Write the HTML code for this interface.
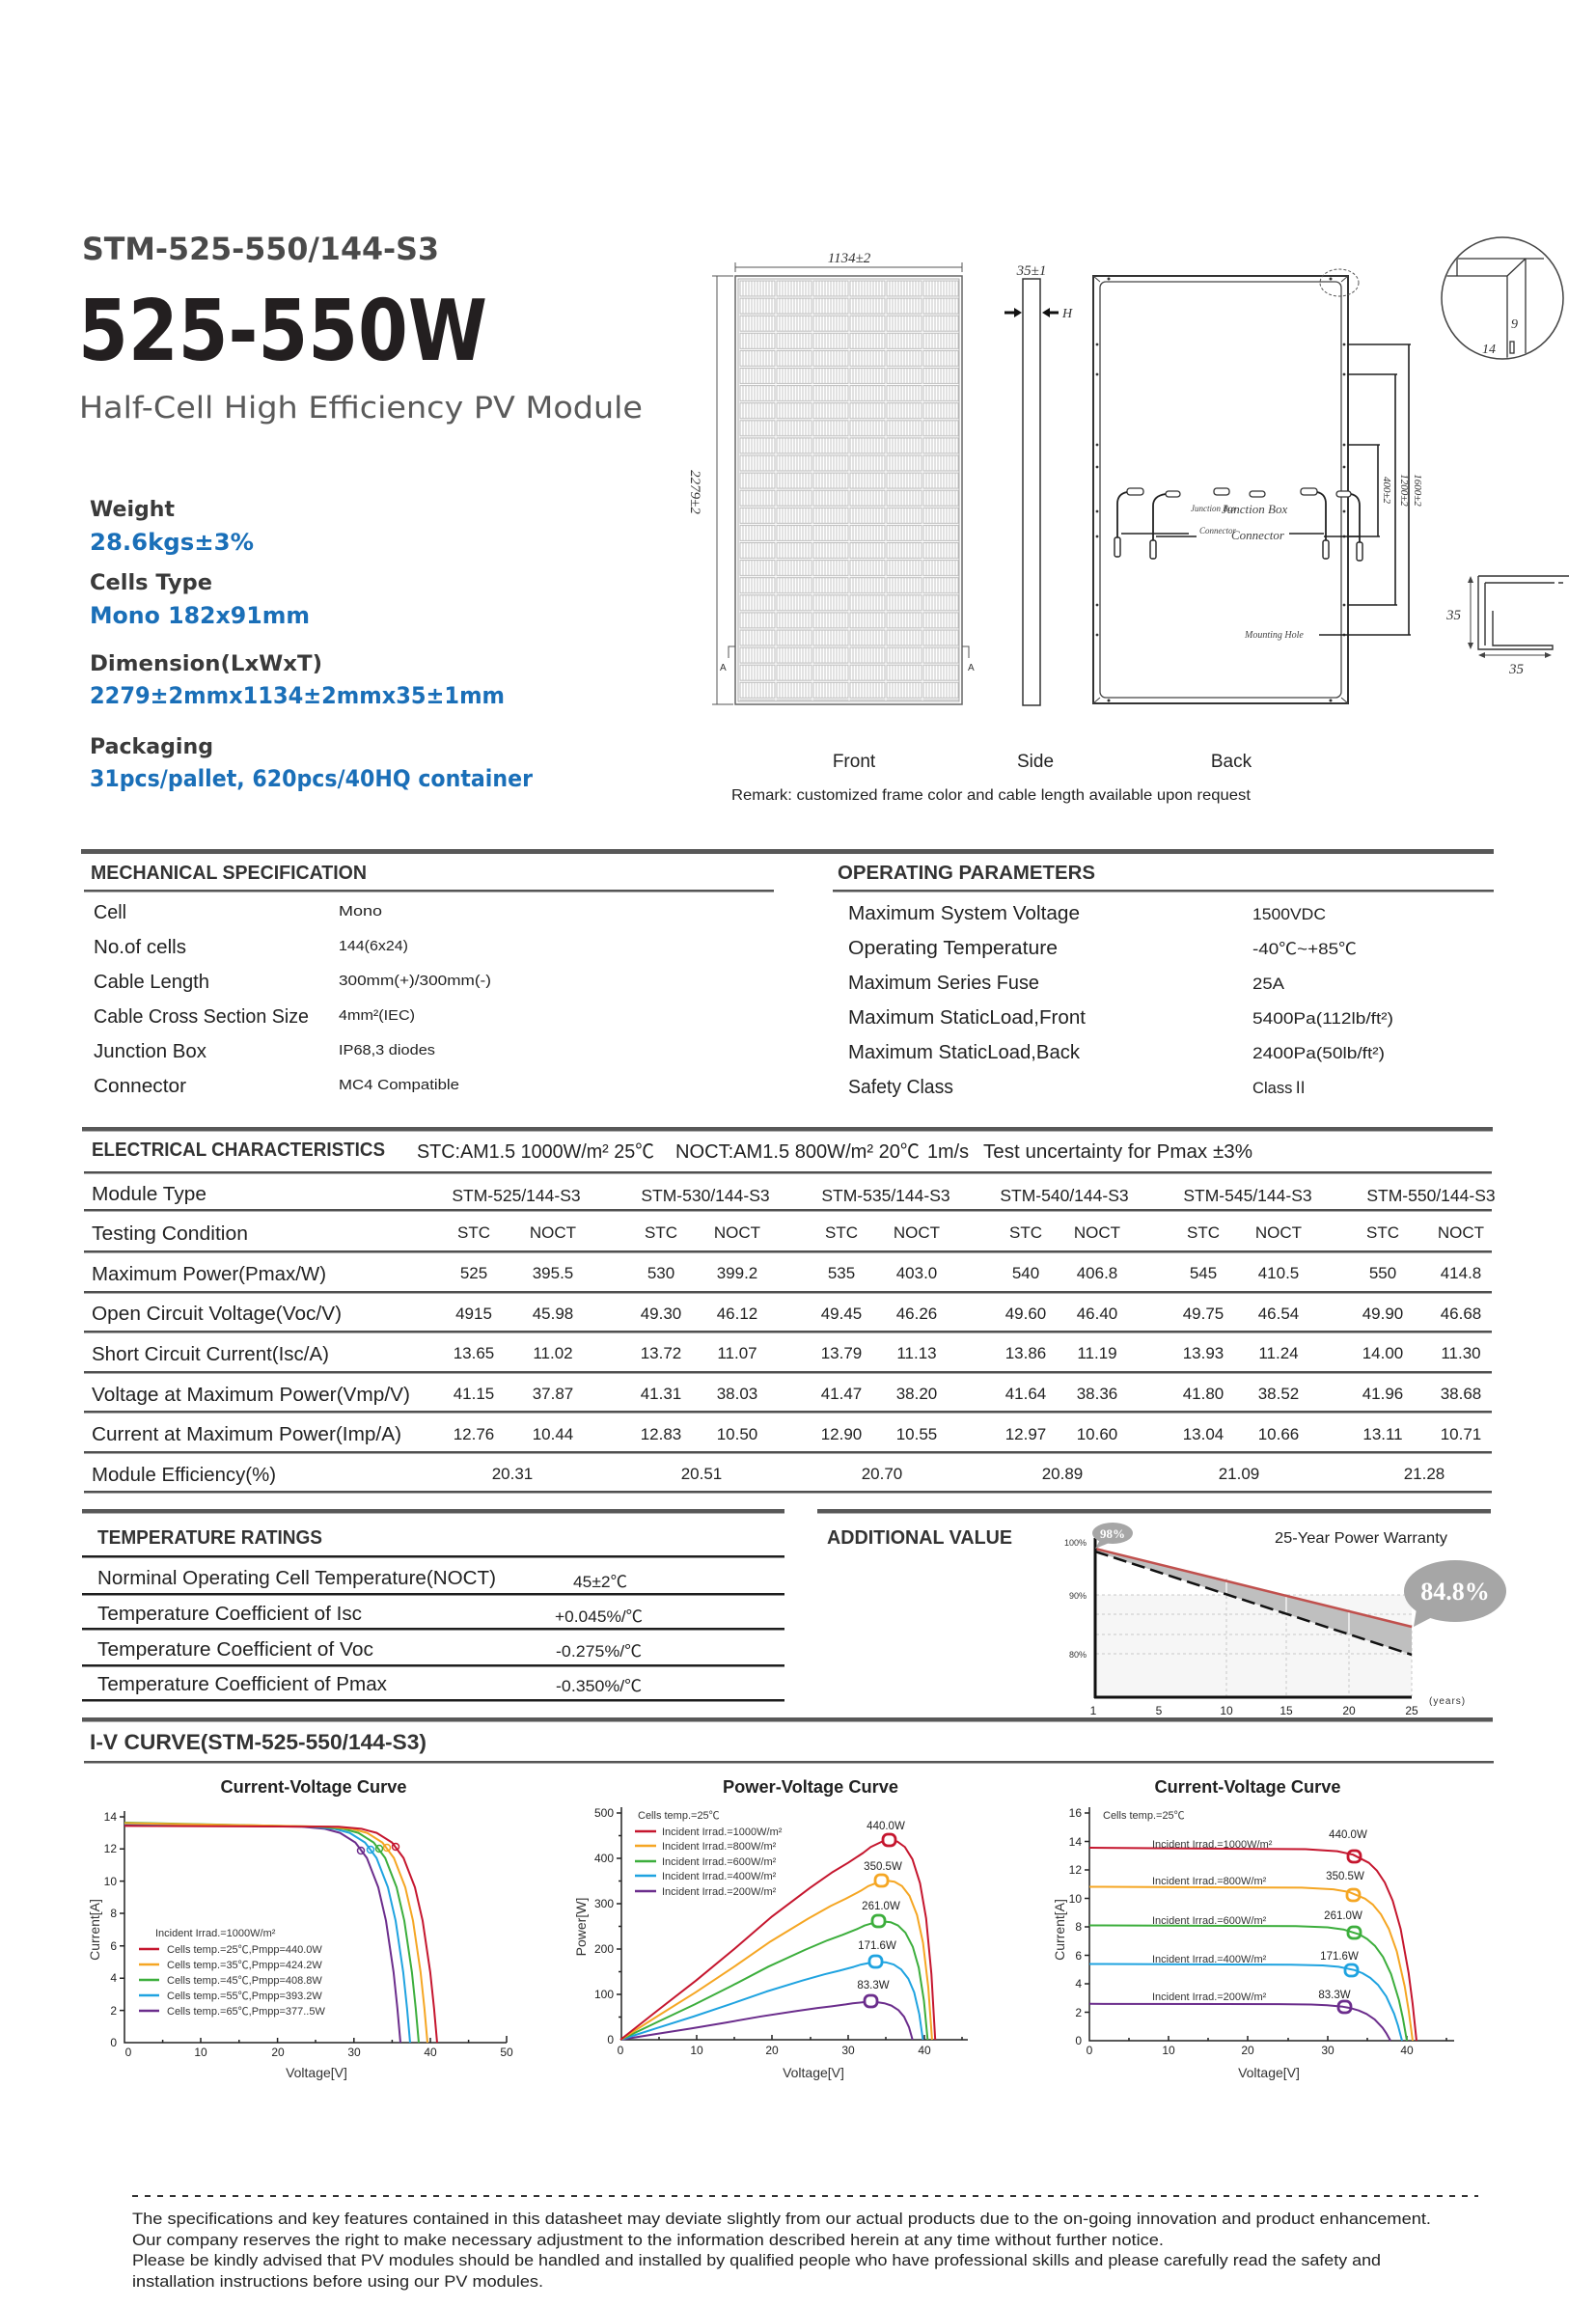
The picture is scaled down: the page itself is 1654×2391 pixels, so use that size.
<!DOCTYPE html>
<html><head><meta charset="utf-8">
<style>
html,body{margin:0;padding:0;background:#fff;}
svg{display:block;}
.h{font-family:"DejaVu Sans","Liberation Sans",sans-serif;font-weight:bold;}
.hr{font-family:"DejaVu Sans","Liberation Sans",sans-serif;}
.b{font-family:"Liberation Sans","Noto Sans CJK SC",sans-serif;}
.bb{font-family:"Liberation Sans","Noto Sans CJK SC",sans-serif;font-weight:bold;}
.s{font-family:"Liberation Serif","Noto Serif CJK SC",serif;font-style:italic;}
.sb{font-family:"Liberation Serif",serif;font-weight:bold;}
</style></head>
<body>
<svg width="1654" height="2391" viewBox="0 0 1654 2391" xmlns="http://www.w3.org/2000/svg">
<defs>
<pattern id="cellp" x="766" y="290" width="38" height="18.1" patternUnits="userSpaceOnUse">
<rect x="1" y="1" width="36" height="16" fill="#fff" stroke="#bcbcbc" stroke-width="1"/>
<path d="M4,1.5V16.5M7,1.5V16.5M10,1.5V16.5M13,1.5V16.5M16,1.5V16.5M19,1.5V16.5M22,1.5V16.5M25,1.5V16.5M28,1.5V16.5M31,1.5V16.5M34,1.5V16.5" stroke="#c4c4c4" stroke-width="1"/>
</pattern>
<clipPath id="cc"><circle cx="1557" cy="309" r="62"/></clipPath>
</defs>
<rect width="1654" height="2391" fill="#fff"/>

<!-- HEADER -->
<text class="h" x="85" y="269" font-size="32" fill="#4a4a4a" textLength="370" lengthAdjust="spacingAndGlyphs">STM-525-550/144-S3</text>
<text class="h" x="81" y="373" font-size="87" fill="#231f20" textLength="424" lengthAdjust="spacingAndGlyphs">525-550W</text>
<text class="hr" x="82" y="433" font-size="31" fill="#5a5a5a" textLength="584" lengthAdjust="spacingAndGlyphs">Half-Cell High Efficiency PV Module</text>

<text class="h" x="93" y="535" font-size="22" fill="#3a3a3a" textLength="88" lengthAdjust="spacingAndGlyphs">Weight</text>
<text class="h" x="93" y="570" font-size="24" fill="#1a6fb8" textLength="170" lengthAdjust="spacingAndGlyphs">28.6kgs±3%</text>
<text class="h" x="93" y="611" font-size="22" fill="#3a3a3a" textLength="127" lengthAdjust="spacingAndGlyphs">Cells Type</text>
<text class="h" x="93" y="646" font-size="24" fill="#1a6fb8" textLength="228" lengthAdjust="spacingAndGlyphs">Mono 182x91mm</text>
<text class="h" x="93" y="695" font-size="22" fill="#3a3a3a" textLength="241" lengthAdjust="spacingAndGlyphs">Dimension(LxWxT)</text>
<text class="h" x="93" y="729" font-size="24" fill="#1a6fb8" textLength="430" lengthAdjust="spacingAndGlyphs">2279±2mmx1134±2mmx35±1mm</text>
<text class="h" x="93" y="781" font-size="22" fill="#3a3a3a" textLength="128" lengthAdjust="spacingAndGlyphs">Packaging</text>
<text class="h" x="93" y="815" font-size="24" fill="#1a6fb8" textLength="459" lengthAdjust="spacingAndGlyphs">31pcs/pallet, 620pcs/40HQ container</text>

<!-- FRONT VIEW -->
<path d="M762,272V282M997,272V282M762,277H997" stroke="#555" stroke-width="1"/>
<text class="s" x="880" y="272" font-size="15" fill="#333" text-anchor="middle">1134±2</text>
<path d="M738,286H760M738,730H760M743,286V730" stroke="#555" stroke-width="1"/>
<text class="s" transform="translate(716,510) rotate(90)" font-size="15" fill="#333" text-anchor="middle">2279±2</text>
<rect x="762" y="286" width="235" height="444" fill="#fff" stroke="#666" stroke-width="1.5"/>
<rect x="765" y="289" width="229" height="438" fill="none" stroke="#999" stroke-width="0.8"/>
<rect x="766" y="290" width="228" height="436" fill="url(#cellp)"/>
<path d="M762,670H755V682M997,670H1004V682" stroke="#555" stroke-width="1" fill="none"/>
<text class="b" x="746" y="695" font-size="10" fill="#333">A</text>
<text class="b" x="1003" y="695" font-size="10" fill="#333">A</text>

<!-- SIDE VIEW -->
<text class="s" x="1069" y="285" font-size="15" fill="#333" text-anchor="middle">35±1</text>
<rect x="1060" y="289" width="18" height="442" fill="#fff" stroke="#333" stroke-width="1.5"/>
<path d="M1041,324H1052" stroke="#111" stroke-width="3"/>
<polygon points="1051,319 1059,324 1051,329" fill="#111"/>
<path d="M1087,324H1097" stroke="#111" stroke-width="3"/>
<polygon points="1088,319 1080,324 1088,329" fill="#111"/>
<text class="s" x="1101" y="329" font-size="14" fill="#333">H</text>

<!-- BACK VIEW -->
<rect x="1133" y="286" width="264" height="443" fill="#fff" stroke="#333" stroke-width="2"/>
<rect x="1140" y="292" width="250" height="431" rx="6" fill="none" stroke="#444" stroke-width="1.3"/>
<path d="M1133,286L1140,292M1397,286L1390,292M1133,729L1140,723M1397,729L1390,723" stroke="#444" stroke-width="1"/>
<g fill="#333">
<circle cx="1149" cy="289" r="1.5"/><circle cx="1379" cy="289" r="1.5"/><circle cx="1149" cy="726" r="1.5"/><circle cx="1379" cy="726" r="1.5"/>
<circle cx="1137" cy="357" r="1.4"/><circle cx="1137" cy="388" r="1.4"/><circle cx="1137" cy="461" r="1.4"/><circle cx="1137" cy="484" r="1.4"/><circle cx="1137" cy="530" r="1.4"/><circle cx="1137" cy="556" r="1.4"/><circle cx="1137" cy="627" r="1.4"/><circle cx="1137" cy="658" r="1.4"/>
<circle cx="1393" cy="357" r="1.4"/><circle cx="1393" cy="388" r="1.4"/><circle cx="1393" cy="461" r="1.4"/><circle cx="1393" cy="484" r="1.4"/><circle cx="1393" cy="530" r="1.4"/><circle cx="1393" cy="556" r="1.4"/><circle cx="1393" cy="627" r="1.4"/><circle cx="1393" cy="658" r="1.4"/>
</g>
<ellipse cx="1388" cy="293" rx="20" ry="14" fill="none" stroke="#555" stroke-width="1" stroke-dasharray="3 2"/>
<path d="M1397,357H1462M1391,658H1462M1460,357V658" stroke="#222" stroke-width="1.6" fill="none"/>
<path d="M1397,388H1448M1397,627H1448M1446,388V627" stroke="#222" stroke-width="1.6" fill="none"/>
<path d="M1397,461H1430M1397,556H1430M1428,461V556" stroke="#222" stroke-width="1.6" fill="none"/>
<text class="s" transform="translate(1466,508) rotate(90)" font-size="11" fill="#333" text-anchor="middle">1600±2</text>
<text class="s" transform="translate(1452,508) rotate(90)" font-size="11" fill="#333" text-anchor="middle">1200±2</text>
<text class="s" transform="translate(1434,508) rotate(90)" font-size="11" fill="#333" text-anchor="middle">400±2</text>
<g fill="#fff" stroke="#333" stroke-width="1.3">
<rect x="1168" y="506" width="17" height="7" rx="3"/><rect x="1208" y="509" width="15" height="6" rx="3"/>
<rect x="1258" y="506" width="16" height="7" rx="3"/><rect x="1295" y="509" width="16" height="6" rx="3"/>
<rect x="1348" y="506" width="17" height="7" rx="3"/><rect x="1385" y="509" width="15" height="6" rx="3"/>
</g>
<path d="M1168,510Q1158,512 1158,522V570M1208,512Q1195,514 1195,524V572M1365,510Q1374,512 1374,522V572M1400,512Q1409,514 1409,524V575" stroke="#222" stroke-width="1.8" fill="none"/>
<g fill="#fff" stroke="#222" stroke-width="1.4">
<rect x="1155" y="557" width="6" height="20" rx="2"/><rect x="1192" y="560" width="6" height="19" rx="2"/>
<rect x="1371" y="560" width="6" height="19" rx="2"/><rect x="1406" y="562" width="6" height="19" rx="2"/>
</g>
<path d="M1162,553H1232M1336,553H1372M1198,556H1240M1372,556H1409" stroke="#222" stroke-width="1.6"/>
<text class="s" x="1234" y="530" font-size="9" fill="#444">Junction Box</text>
<text class="s" x="1266" y="532" font-size="13" fill="#444">Junction Box</text>
<text class="s" x="1243" y="553" font-size="9" fill="#444">Connector</text>
<text class="s" x="1276" y="559" font-size="13" fill="#444">Connector</text>
<text class="s" x="1290" y="661" font-size="10" fill="#444">Mounting Hole</text>
<path d="M1367,658H1391" stroke="#222" stroke-width="1.6"/>

<!-- corner detail -->
<circle cx="1557" cy="309" r="63" fill="#fff" stroke="#444" stroke-width="1.5"/>
<g clip-path="url(#cc)" stroke="#333" stroke-width="1.3" fill="none">
<path d="M1510,268H1600M1490,286H1562M1562,286L1581,268M1562,286V380M1581,268V380M1510,268V286"/>
<rect x="1565" y="354" width="4" height="12"/>
</g>
<text class="s" x="1566" y="340" font-size="14" fill="#333">9</text>
<text class="s" x="1536" y="366" font-size="14" fill="#333">14</text>

<!-- frame section -->
<path d="M1532,597H1626M1539,604H1611M1615,604H1620M1532,597V673H1609V669H1547V633M1539,604V669" stroke="#333" stroke-width="1.4" fill="none"/>
<path d="M1524,599V671M1534,679H1606" stroke="#444" stroke-width="1"/>
<polygon points="1521,604 1524,597 1527,604" fill="#444"/><polygon points="1521,666 1524,673 1527,666" fill="#444"/>
<polygon points="1539,676 1532,679 1539,682" fill="#444"/><polygon points="1601,676 1608,679 1601,682" fill="#444"/>
<text class="s" x="1499" y="642" font-size="15" fill="#333">35</text>
<text class="s" x="1564" y="698" font-size="15" fill="#333">35</text>

<text class="b" x="885" y="795" font-size="19" fill="#222" text-anchor="middle">Front</text>
<text class="b" x="1073" y="795" font-size="19" fill="#222" text-anchor="middle">Side</text>
<text class="b" x="1276" y="795" font-size="19" fill="#222" text-anchor="middle">Back</text>
<text class="b" x="758" y="829" font-size="16" fill="#222" textLength="538" lengthAdjust="spacingAndGlyphs">Remark: customized frame color and cable length available upon request</text>

<!-- MECHANICAL / OPERATING -->
<rect x="84" y="880" width="1464" height="5" fill="#585858"/>
<text class="bb" x="94" y="911" font-size="20" fill="#333" textLength="286" lengthAdjust="spacingAndGlyphs">MECHANICAL SPECIFICATION</text>
<text class="bb" x="868" y="911" font-size="20" fill="#333" textLength="267" lengthAdjust="spacingAndGlyphs">OPERATING PARAMETERS</text>
<rect x="87" y="922" width="715" height="2.5" fill="#555"/>
<rect x="863" y="922" width="685" height="2.5" fill="#555"/>
<g class="b" fill="#222" font-size="20">
<text x="97" y="952" textLength="34" lengthAdjust="spacingAndGlyphs">Cell</text>
<text x="97" y="988" textLength="96" lengthAdjust="spacingAndGlyphs">No.of cells</text>
<text x="97" y="1024" textLength="120" lengthAdjust="spacingAndGlyphs">Cable Length</text>
<text x="97" y="1060" textLength="223" lengthAdjust="spacingAndGlyphs">Cable Cross Section Size</text>
<text x="97" y="1096" textLength="117" lengthAdjust="spacingAndGlyphs">Junction Box</text>
<text x="97" y="1132" textLength="96" lengthAdjust="spacingAndGlyphs">Connector</text>
<text x="879" y="953" textLength="240" lengthAdjust="spacingAndGlyphs">Maximum System Voltage</text>
<text x="879" y="989" textLength="217" lengthAdjust="spacingAndGlyphs">Operating Temperature</text>
<text x="879" y="1025" textLength="198" lengthAdjust="spacingAndGlyphs">Maximum Series Fuse</text>
<text x="879" y="1061" textLength="246" lengthAdjust="spacingAndGlyphs">Maximum StaticLoad,Front</text>
<text x="879" y="1097" textLength="240" lengthAdjust="spacingAndGlyphs">Maximum StaticLoad,Back</text>
<text x="879" y="1133" textLength="109" lengthAdjust="spacingAndGlyphs">Safety Class</text>
</g>
<g class="b" fill="#222" font-size="15">
<text x="351" y="949" textLength="45" lengthAdjust="spacingAndGlyphs">Mono</text>
<text x="351" y="985" textLength="72" lengthAdjust="spacingAndGlyphs">144(6x24)</text>
<text x="351" y="1021" textLength="158" lengthAdjust="spacingAndGlyphs">300mm(+)/300mm(-)</text>
<text x="351" y="1057" textLength="79" lengthAdjust="spacingAndGlyphs">4mm²(IEC)</text>
<text x="351" y="1093" textLength="100" lengthAdjust="spacingAndGlyphs">IP68,3 diodes</text>
<text x="351" y="1129" textLength="125" lengthAdjust="spacingAndGlyphs">MC4 Compatible</text>
</g>
<g class="b" fill="#222" font-size="17">
<text x="1298" y="953" textLength="76" lengthAdjust="spacingAndGlyphs">1500VDC</text>
<text x="1298" y="989" textLength="108" lengthAdjust="spacingAndGlyphs">-40℃~+85℃</text>
<text x="1298" y="1025" textLength="33" lengthAdjust="spacingAndGlyphs">25A</text>
<text x="1298" y="1061" textLength="146" lengthAdjust="spacingAndGlyphs">5400Pa(112lb/ft²)</text>
<text x="1298" y="1097" textLength="137" lengthAdjust="spacingAndGlyphs">2400Pa(50lb/ft²)</text>
<text x="1298" y="1133" textLength="58" lengthAdjust="spacingAndGlyphs">ClassⅡ</text>
</g>

<!-- ELECTRICAL -->
<rect x="85" y="1168" width="1462" height="4.5" fill="#585858"/>
<text class="bb" x="95" y="1198" font-size="20" fill="#333" textLength="304" lengthAdjust="spacingAndGlyphs">ELECTRICAL CHARACTERISTICS</text>
<g class="b" fill="#222" font-size="20">
<text x="432" y="1200" textLength="246" lengthAdjust="spacingAndGlyphs">STC:AM1.5 1000W/m² 25℃</text>
<text x="700" y="1200" textLength="253" lengthAdjust="spacingAndGlyphs">NOCT:AM1.5 800W/m² 20℃</text>
<text x="961" y="1200" textLength="43" lengthAdjust="spacingAndGlyphs">1m/s</text>
<text x="1019" y="1200" textLength="279" lengthAdjust="spacingAndGlyphs">Test uncertainty for Pmax ±3%</text>
</g>
<g fill="#4f4f4f">
<rect x="87" y="1214" width="1459" height="2.5"/>
<rect x="87" y="1253" width="1459" height="2.5"/>
<rect x="87" y="1296" width="1459" height="2.5"/>
<rect x="87" y="1338" width="1459" height="2.5"/>
<rect x="87" y="1379" width="1459" height="2.5"/>
<rect x="87" y="1421" width="1459" height="2.5"/>
<rect x="87" y="1462" width="1459" height="2.5"/>
<rect x="87" y="1504" width="1459" height="2.5"/>
<rect x="87" y="1545" width="1459" height="2.5"/>
</g>
<g class="b" fill="#222" font-size="20">
<text x="95" y="1244" textLength="119" lengthAdjust="spacingAndGlyphs">Module Type</text>
<text x="95" y="1285" textLength="162" lengthAdjust="spacingAndGlyphs">Testing Condition</text>
<text x="95" y="1327" textLength="243" lengthAdjust="spacingAndGlyphs">Maximum Power(Pmax/W)</text>
<text x="95" y="1368" textLength="259" lengthAdjust="spacingAndGlyphs">Open Circuit Voltage(Voc/V)</text>
<text x="95" y="1410" textLength="246" lengthAdjust="spacingAndGlyphs">Short Circuit Current(Isc/A)</text>
<text x="95" y="1452" textLength="330" lengthAdjust="spacingAndGlyphs">Voltage at Maximum Power(Vmp/V)</text>
<text x="95" y="1493" textLength="321" lengthAdjust="spacingAndGlyphs">Current at Maximum Power(Imp/A)</text>
<text x="95" y="1535" textLength="191" lengthAdjust="spacingAndGlyphs">Module Efficiency(%)</text>
</g>
<g class="b" fill="#222" font-size="17.5" text-anchor="middle">
<text x="535" y="1245">STM-525/144-S3</text>
<text x="731" y="1245">STM-530/144-S3</text>
<text x="918" y="1245">STM-535/144-S3</text>
<text x="1103" y="1245">STM-540/144-S3</text>
<text x="1293" y="1245">STM-545/144-S3</text>
<text x="1483" y="1245">STM-550/144-S3</text>
</g>
<g class="b" fill="#222" font-size="17" text-anchor="middle">
<text x="491" y="1283">STC</text><text x="573" y="1283">NOCT</text>
<text x="685" y="1283">STC</text><text x="764" y="1283">NOCT</text>
<text x="872" y="1283">STC</text><text x="950" y="1283">NOCT</text>
<text x="1063" y="1283">STC</text><text x="1137" y="1283">NOCT</text>
<text x="1247" y="1283">STC</text><text x="1325" y="1283">NOCT</text>
<text x="1433" y="1283">STC</text><text x="1514" y="1283">NOCT</text>

<text x="491" y="1325">525</text><text x="573" y="1325">395.5</text>
<text x="685" y="1325">530</text><text x="764" y="1325">399.2</text>
<text x="872" y="1325">535</text><text x="950" y="1325">403.0</text>
<text x="1063" y="1325">540</text><text x="1137" y="1325">406.8</text>
<text x="1247" y="1325">545</text><text x="1325" y="1325">410.5</text>
<text x="1433" y="1325">550</text><text x="1514" y="1325">414.8</text>

<text x="491" y="1367">4915</text><text x="573" y="1367">45.98</text>
<text x="685" y="1367">49.30</text><text x="764" y="1367">46.12</text>
<text x="872" y="1367">49.45</text><text x="950" y="1367">46.26</text>
<text x="1063" y="1367">49.60</text><text x="1137" y="1367">46.40</text>
<text x="1247" y="1367">49.75</text><text x="1325" y="1367">46.54</text>
<text x="1433" y="1367">49.90</text><text x="1514" y="1367">46.68</text>

<text x="491" y="1408">13.65</text><text x="573" y="1408">11.02</text>
<text x="685" y="1408">13.72</text><text x="764" y="1408">11.07</text>
<text x="872" y="1408">13.79</text><text x="950" y="1408">11.13</text>
<text x="1063" y="1408">13.86</text><text x="1137" y="1408">11.19</text>
<text x="1247" y="1408">13.93</text><text x="1325" y="1408">11.24</text>
<text x="1433" y="1408">14.00</text><text x="1514" y="1408">11.30</text>

<text x="491" y="1450">41.15</text><text x="573" y="1450">37.87</text>
<text x="685" y="1450">41.31</text><text x="764" y="1450">38.03</text>
<text x="872" y="1450">41.47</text><text x="950" y="1450">38.20</text>
<text x="1063" y="1450">41.64</text><text x="1137" y="1450">38.36</text>
<text x="1247" y="1450">41.80</text><text x="1325" y="1450">38.52</text>
<text x="1433" y="1450">41.96</text><text x="1514" y="1450">38.68</text>

<text x="491" y="1492">12.76</text><text x="573" y="1492">10.44</text>
<text x="685" y="1492">12.83</text><text x="764" y="1492">10.50</text>
<text x="872" y="1492">12.90</text><text x="950" y="1492">10.55</text>
<text x="1063" y="1492">12.97</text><text x="1137" y="1492">10.60</text>
<text x="1247" y="1492">13.04</text><text x="1325" y="1492">10.66</text>
<text x="1433" y="1492">13.11</text><text x="1514" y="1492">10.71</text>

<text x="531" y="1533">20.31</text>
<text x="727" y="1533">20.51</text>
<text x="914" y="1533">20.70</text>
<text x="1101" y="1533">20.89</text>
<text x="1284" y="1533">21.09</text>
<text x="1476" y="1533">21.28</text>
</g>

<!-- TEMPERATURE RATINGS -->
<rect x="85" y="1564" width="728" height="4.5" fill="#585858"/>
<rect x="847" y="1564" width="698" height="4.5" fill="#585858"/>
<text class="bb" x="101" y="1600" font-size="20" fill="#333" textLength="233" lengthAdjust="spacingAndGlyphs">TEMPERATURE RATINGS</text>
<g fill="#1e1e1e">
<rect x="85" y="1612" width="728" height="2.5"/>
<rect x="85" y="1651" width="728" height="2.5"/>
<rect x="85" y="1687" width="728" height="2.5"/>
<rect x="85" y="1725" width="728" height="2.5"/>
<rect x="85" y="1761" width="728" height="2.5"/>
</g>
<g class="b" fill="#222" font-size="20">
<text x="101" y="1642" textLength="413" lengthAdjust="spacingAndGlyphs">Norminal Operating Cell Temperature(NOCT)</text>
<text x="101" y="1679" textLength="274" lengthAdjust="spacingAndGlyphs">Temperature Coefficient of Isc</text>
<text x="101" y="1716" textLength="286" lengthAdjust="spacingAndGlyphs">Temperature Coefficient of Voc</text>
<text x="101" y="1752" textLength="300" lengthAdjust="spacingAndGlyphs">Temperature Coefficient of Pmax</text>
</g>
<g class="b" fill="#222" font-size="17">
<text x="594" y="1645" textLength="56" lengthAdjust="spacingAndGlyphs">45±2℃</text>
<text x="575" y="1681" textLength="91" lengthAdjust="spacingAndGlyphs">+0.045%/℃</text>
<text x="576" y="1717" textLength="89" lengthAdjust="spacingAndGlyphs">-0.275%/℃</text>
<text x="576" y="1753" textLength="89" lengthAdjust="spacingAndGlyphs">-0.350%/℃</text>
</g>

<!-- ADDITIONAL VALUE -->
<text class="bb" x="857" y="1600" font-size="20" fill="#333" textLength="192" lengthAdjust="spacingAndGlyphs">ADDITIONAL VALUE</text>
<text class="b" x="1321" y="1599" font-size="16" fill="#222" textLength="179" lengthAdjust="spacingAndGlyphs">25-Year Power Warranty</text>
<rect x="1136" y="1653" width="327" height="105" fill="#f6f6f6"/>
<g stroke="#c8c8c8" stroke-width="1" stroke-dasharray="3 3">
<path d="M1136,1653H1463M1136,1673H1463M1136,1694H1463M1136,1714H1463"/>
<path d="M1271,1636V1758M1333,1652V1758M1398,1668V1758M1463,1684V1758"/>
</g>
<polygon points="1135,1605 1463,1686 1463,1715 1135,1608" fill="#bfbfbf"/>
<path d="M1271,1639V1652M1333,1654V1672M1398,1670V1693" stroke="#fff" stroke-width="1.2"/>
<path d="M1135,1605L1463,1686" stroke="#c0504d" stroke-width="2.5"/>
<path d="M1135,1608L1463,1715" stroke="#111" stroke-width="2.5" stroke-dasharray="14 6"/>
<path d="M1135,1594V1760M1134,1759H1463" stroke="#111" stroke-width="3" fill="none"/>
<g class="b" fill="#333" font-size="9" text-anchor="end">
<text x="1126" y="1602">100%</text><text x="1126" y="1657">90%</text><text x="1126" y="1718">80%</text>
</g>
<g class="b" fill="#222" font-size="12" text-anchor="middle">
<text x="1133" y="1777">1</text><text x="1201" y="1777">5</text><text x="1271" y="1777">10</text>
<text x="1333" y="1777">15</text><text x="1398" y="1777">20</text><text x="1463" y="1777">25</text>
</g>
<text class="b" x="1481" y="1766" font-size="10" fill="#333" letter-spacing="1">(years)</text>
<polygon points="1141,1594 1135,1605 1152,1598" fill="#a6a6a6"/>
<ellipse cx="1153" cy="1589" rx="21" ry="11" fill="#a6a6a6"/>
<text class="sb" x="1153" y="1594" font-size="13" fill="#fff" text-anchor="middle">98%</text>
<polygon points="1470,1655 1465,1686 1492,1672" fill="#a6a6a6"/>
<ellipse cx="1508" cy="1649" rx="53" ry="32" fill="#a6a6a6"/>
<text class="sb" x="1508" y="1658" font-size="26" fill="#fff" text-anchor="middle">84.8%</text>

<!-- I-V CURVE SECTION -->
<rect x="85" y="1780" width="1462" height="4.5" fill="#585858"/>
<text class="bb" x="93" y="1813" font-size="22" fill="#333" textLength="349" lengthAdjust="spacingAndGlyphs">I-V CURVE(STM-525-550/144-S3)</text>
<rect x="87" y="1825" width="1461" height="2.5" fill="#555"/>

<!-- CHART 1 -->
<text class="bb" x="325" y="1858" font-size="18" fill="#222" text-anchor="middle" textLength="193" lengthAdjust="spacingAndGlyphs">Current-Voltage Curve</text>
<g stroke="#222" stroke-width="1.5" fill="none">
<path d="M129,1877V2117H525"/>
<path d="M124,1883H129M124,1916.2H129M124,1949.6H129M124,1983H129M124,2016.8H129M124,2050.2H129M124,2083.6H129"/>
<path d="M208,2117V2112M287.6,2117V2112M366.8,2117V2112M446,2117V2112M525,2117V2110M168.6,2117V2114M247.8,2117V2114M327,2117V2114M406.4,2117V2114M485.6,2117V2114"/>
</g>
<g class="b" fill="#222" font-size="12" text-anchor="end">
<text x="121" y="1887">14</text><text x="121" y="1920">12</text><text x="121" y="1954">10</text><text x="121" y="1987">8</text>
<text x="121" y="2021">6</text><text x="121" y="2054">4</text><text x="121" y="2088">2</text><text x="121" y="2121">0</text>
</g>
<g class="b" fill="#222" font-size="12" text-anchor="middle">
<text x="133" y="2131">0</text><text x="208" y="2131">10</text><text x="288" y="2131">20</text>
<text x="367" y="2131">30</text><text x="446" y="2131">40</text><text x="525" y="2131">50</text>
</g>
<text class="b" transform="translate(103,2000) rotate(-90)" font-size="14" fill="#333" text-anchor="middle">Current[A]</text>
<text class="b" x="328" y="2153" font-size="14" fill="#333" text-anchor="middle">Voltage[V]</text>
<g fill="none" stroke-width="2" stroke-linejoin="round">
<path stroke="#6b2d8c" d="M129,1891L312.8,1893.2L336.6,1895.4L352.4,1899.6L368.3,1909.6L380.2,1925.6L392,1956L400,1990.7L407.9,2044.2L411.8,2081.1L415,2117"/>
<path stroke="#1fa3e0" d="M129,1890L322.8,1893.2L346.6,1895.4L362.4,1899.6L378.3,1909.6L390.2,1925.6L402,1956L410,1990.7L417.9,2044.2L421.8,2081.1L425,2117"/>
<path stroke="#3cae3c" d="M129,1889L331.8,1893.2L355.6,1895.4L371.4,1899.6L387.3,1909.6L399.2,1925.6L411,1956L419,1990.7L426.9,2044.2L430.8,2081.1L434,2117"/>
<path stroke="#f5a623" d="M129,1889.5L340.8,1893.2L364.6,1895.4L380.4,1899.6L396.3,1909.6L408.2,1925.6L420,1956L428,1990.7L435.9,2044.2L439.8,2081.1L443,2117"/>
<path stroke="#c5162e" d="M129,1892.4L350.8,1893.2L374.6,1895.4L390.4,1899.6L406.3,1909.6L418.2,1925.6L430,1956L438,1990.7L445.9,2044.2L449.8,2081.1L453,2117"/>
</g>
<g fill="none" stroke-width="1.5">
<circle cx="410" cy="1914" r="3.5" stroke="#c5162e"/>
<circle cx="401" cy="1915" r="3.5" stroke="#f5a623"/>
<circle cx="393" cy="1916" r="3.5" stroke="#3cae3c"/>
<circle cx="384" cy="1917" r="3.5" stroke="#1fa3e0"/>
<circle cx="374" cy="1918" r="3.5" stroke="#6b2d8c"/>
</g>
<text class="b" x="161" y="2007" font-size="11" fill="#333">Incident Irrad.=1000W/m²</text>
<g stroke-width="2.5">
<path d="M144,2020H165" stroke="#c5162e"/><path d="M144,2036H165" stroke="#f5a623"/><path d="M144,2052H165" stroke="#3cae3c"/>
<path d="M144,2068H165" stroke="#1fa3e0"/><path d="M144,2084H165" stroke="#6b2d8c"/>
</g>
<g class="b" fill="#333" font-size="11">
<text x="173" y="2024">Cells temp.=25℃,Pmpp=440.0W</text>
<text x="173" y="2040">Cells temp.=35℃,Pmpp=424.2W</text>
<text x="173" y="2056">Cells temp.=45℃,Pmpp=408.8W</text>
<text x="173" y="2072">Cells temp.=55℃,Pmpp=393.2W</text>
<text x="173" y="2088">Cells temp.=65℃,Pmpp=377..5W</text>
</g>

<!-- CHART 2 -->
<text class="bb" x="840" y="1858" font-size="18" fill="#222" text-anchor="middle" textLength="182" lengthAdjust="spacingAndGlyphs">Power-Voltage Curve</text>
<g stroke="#222" stroke-width="1.5" fill="none">
<path d="M644,1873V2114H1003"/>
<path d="M639,1879H644M639,1926H644M639,1973H644M639,2020H644M639,2067H644M641,1902.5H644M641,1949.5H644M641,1996.5H644M641,2043.5H644M641,2090.5H644"/>
<path d="M722,2114V2109M800,2114V2109M879,2114V2109M958,2114V2109M683,2114V2111M761,2114V2111M840,2114V2111M918,2114V2111M997,2114V2111"/>
</g>
<g class="b" fill="#222" font-size="12" text-anchor="end">
<text x="636" y="1883">500</text><text x="636" y="1930">400</text><text x="636" y="1977">300</text>
<text x="636" y="2024">200</text><text x="636" y="2071">100</text><text x="636" y="2118">0</text>
</g>
<g class="b" fill="#222" font-size="12" text-anchor="middle">
<text x="643" y="2129">0</text><text x="722" y="2129">10</text><text x="800" y="2129">20</text>
<text x="879" y="2129">30</text><text x="958" y="2129">40</text>
</g>
<text class="b" transform="translate(607,1997) rotate(-90)" font-size="14" fill="#333" text-anchor="middle">Power[W]</text>
<text class="b" x="843" y="2153" font-size="14" fill="#333" text-anchor="middle">Voltage[V]</text>
<g fill="none" stroke-width="2" stroke-linejoin="round">
<path stroke="#6b2d8c" vector-effect="non-scaling-stroke" transform="translate(643,2114) scale(7.294,-0.0889)" d="M0,0L5,66L10,131L15,200L20,272L25,335L28,370L30,390L32,412L33,425L34.5,437L35.5,440L36.5,437L37.5,425L38.5,398L39.5,345L40.3,268L41,145L41.5,0"/>
<path stroke="#1fa3e0" vector-effect="non-scaling-stroke" transform="translate(643,2114) scale(7.553,-0.1833)" d="M0,0L5,66L10,131L15,200L20,272L25,335L28,370L30,390L32,412L33,425L34.5,437L35.5,440L36.5,437L37.5,425L38.5,398L39.5,345L40.3,268L41,145L41.5,0"/>
<path stroke="#3cae3c" vector-effect="non-scaling-stroke" transform="translate(643,2114) scale(7.671,-0.2787)" d="M0,0L5,66L10,131L15,200L20,272L25,335L28,370L30,390L32,412L33,425L34.5,437L35.5,440L36.5,437L37.5,425L38.5,398L39.5,345L40.3,268L41,145L41.5,0"/>
<path stroke="#f5a623" vector-effect="non-scaling-stroke" transform="translate(643,2114) scale(7.781,-0.3746)" d="M0,0L5,66L10,131L15,200L20,272L25,335L28,370L30,390L32,412L33,425L34.5,437L35.5,440L36.5,437L37.5,425L38.5,398L39.5,345L40.3,268L41,145L41.5,0"/>
<path stroke="#c5162e" vector-effect="non-scaling-stroke" transform="translate(643,2114) scale(7.86,-0.47)" d="M0,0L5,66L10,131L15,200L20,272L25,335L28,370L30,390L32,412L33,425L34.5,437L35.5,440L36.5,437L37.5,425L38.5,398L39.5,345L40.3,268L41,145L41.5,0"/>
</g>
<g fill="#fff" stroke-width="2.8">
<rect x="915" y="1901" width="13" height="12" rx="5" stroke="#c5162e"/>
<rect x="907" y="1943" width="13" height="12" rx="5" stroke="#f5a623"/>
<rect x="904" y="1985" width="13" height="12" rx="5" stroke="#3cae3c"/>
<rect x="901" y="2027" width="13" height="12" rx="5" stroke="#1fa3e0"/>
<rect x="896" y="2068" width="13" height="12" rx="5" stroke="#6b2d8c"/>
</g>
<g class="b" fill="#222" font-size="11.5" text-anchor="middle">
<text x="918" y="1896">440.0W</text><text x="915" y="1938">350.5W</text><text x="913" y="1979">261.0W</text>
<text x="909" y="2020">171.6W</text><text x="905" y="2061">83.3W</text>
</g>
<text class="b" x="661" y="1885" font-size="11" fill="#333">Cells temp.=25℃</text>
<g stroke-width="2.5">
<path d="M658,1898H680" stroke="#c5162e"/><path d="M658,1913H680" stroke="#f5a623"/><path d="M658,1929H680" stroke="#3cae3c"/>
<path d="M658,1944H680" stroke="#1fa3e0"/><path d="M658,1960H680" stroke="#6b2d8c"/>
</g>
<g class="b" fill="#333" font-size="11">
<text x="686" y="1902">Incident Irrad.=1000W/m²</text>
<text x="686" y="1917">Incident Irrad.=800W/m²</text>
<text x="686" y="1933">Incident Irrad.=600W/m²</text>
<text x="686" y="1948">Incident Irrad.=400W/m²</text>
<text x="686" y="1964">Incident Irrad.=200W/m²</text>
</g>

<!-- CHART 3 -->
<text class="bb" x="1293" y="1858" font-size="18" fill="#222" text-anchor="middle" textLength="193" lengthAdjust="spacingAndGlyphs">Current-Voltage Curve</text>
<g stroke="#222" stroke-width="1.5" fill="none">
<path d="M1129,1873V2115H1507"/>
<path d="M1124,1879H1129M1124,1908.5H1129M1124,1938H1129M1124,1967.5H1129M1124,1997H1129M1124,2026.5H1129M1124,2056H1129M1124,2085.5H1129"/>
<path d="M1211,2115V2110M1293,2115V2110M1376,2115V2110M1458,2115V2110M1170,2115V2112M1252,2115V2112M1335,2115V2112M1417,2115V2112M1499,2115V2112"/>
</g>
<g class="b" fill="#222" font-size="12" text-anchor="end">
<text x="1121" y="1883">16</text><text x="1121" y="1913">14</text><text x="1121" y="1942">12</text><text x="1121" y="1972">10</text>
<text x="1121" y="2001">8</text><text x="1121" y="2031">6</text><text x="1121" y="2060">4</text><text x="1121" y="2090">2</text><text x="1121" y="2119">0</text>
</g>
<g class="b" fill="#222" font-size="12" text-anchor="middle">
<text x="1129" y="2129">0</text><text x="1211" y="2129">10</text><text x="1293" y="2129">20</text>
<text x="1376" y="2129">30</text><text x="1458" y="2129">40</text>
</g>
<text class="b" transform="translate(1103,2000) rotate(-90)" font-size="14" fill="#333" text-anchor="middle">Current[A]</text>
<text class="b" x="1315" y="2153" font-size="14" fill="#333" text-anchor="middle">Voltage[V]</text>
<text class="b" x="1143" y="1885" font-size="11" fill="#333">Cells temp.=25℃</text>
<g fill="none" stroke-width="2" stroke-linejoin="round">
<path stroke="#c5162e" d="M1129,1915L1352.9,1916.5L1385.8,1918.6L1402.2,1922.2L1418.7,1930.7L1426.9,1938.7L1435.1,1951L1443.3,1969.9L1451.6,1999.4L1459.8,2044.8L1463.9,2076.2L1468,2115"/>
<path stroke="#f5a623" d="M1129,1955.5L1348.9,1956.4L1381.8,1958.1L1398.2,1960.9L1414.7,1967.8L1422.9,1974.1L1431.1,1984L1439.3,1999.1L1447.6,2022.6L1455.8,2058.9L1459.9,2084L1464,2115"/>
<path stroke="#3cae3c" d="M1129,1995.5L1342.9,1996.3L1375.8,1997.5L1392.2,1999.7L1408.7,2004.8L1416.9,2009.6L1425.1,2016.9L1433.3,2028.2L1441.6,2045.9L1449.8,2073L1453.9,2091.8L1458,2115"/>
<path stroke="#1fa3e0" d="M1129,2035.5L1337.9,2036.2L1370.8,2037L1387.2,2038.4L1403.7,2041.8L1411.9,2045L1420.1,2049.9L1428.3,2057.4L1436.6,2069.1L1444.8,2087.1L1448.9,2099.6L1453,2115"/>
<path stroke="#6b2d8c" d="M1129,2076.8L1325.9,2077.1L1358.8,2077.5L1375.2,2078.2L1391.7,2079.8L1399.9,2081.3L1408.1,2083.7L1416.3,2087.3L1424.6,2092.9L1432.8,2101.6L1436.9,2107.6L1441,2115"/>
</g>
<g fill="none" stroke-width="2.8">
<rect x="1397" y="1918" width="13" height="12" rx="5" stroke="#c5162e"/>
<rect x="1396" y="1958" width="13" height="12" rx="5" stroke="#f5a623"/>
<rect x="1397" y="1997" width="13" height="12" rx="5" stroke="#3cae3c"/>
<rect x="1394" y="2036" width="13" height="12" rx="5" stroke="#1fa3e0"/>
<rect x="1387" y="2074" width="13" height="12" rx="5" stroke="#6b2d8c"/>
</g>
<g class="b" fill="#333" font-size="11">
<text x="1194" y="1915">Incident Irrad.=1000W/m²</text>
<text x="1194" y="1953">Incident Irrad.=800W/m²</text>
<text x="1194" y="1994">Incident Irrad.=600W/m²</text>
<text x="1194" y="2034">Incident Irrad.=400W/m²</text>
<text x="1194" y="2073">Incident Irrad.=200W/m²</text>
</g>
<g class="b" fill="#222" font-size="11.5" text-anchor="middle">
<text x="1397" y="1905">440.0W</text><text x="1394" y="1948">350.5W</text><text x="1392" y="1989">261.0W</text>
<text x="1388" y="2031">171.6W</text><text x="1383" y="2071">83.3W</text>
</g>

<!-- FOOTER -->
<path d="M137,2276H1532" stroke="#333" stroke-width="2" stroke-dasharray="6 7"/>
<g class="b" fill="#222" font-size="17">
<text x="137" y="2305" textLength="1346" lengthAdjust="spacingAndGlyphs">The specifications and key features contained in this datasheet may deviate slightly from our actual products due to the on-going innovation and product  enhancement.</text>
<text x="137" y="2327" textLength="1069" lengthAdjust="spacingAndGlyphs">Our company reserves the right to make necessary adjustment to the information described herein at any time without further notice.</text>
<text x="137" y="2348" textLength="1294" lengthAdjust="spacingAndGlyphs">Please be kindly advised that PV modules should be handled and installed by qualified people who have professional skills and please carefully read the safety and</text>
<text x="137" y="2370" textLength="426" lengthAdjust="spacingAndGlyphs">installation instructions before using our PV modules.</text>
</g>
</svg>
</body></html>
